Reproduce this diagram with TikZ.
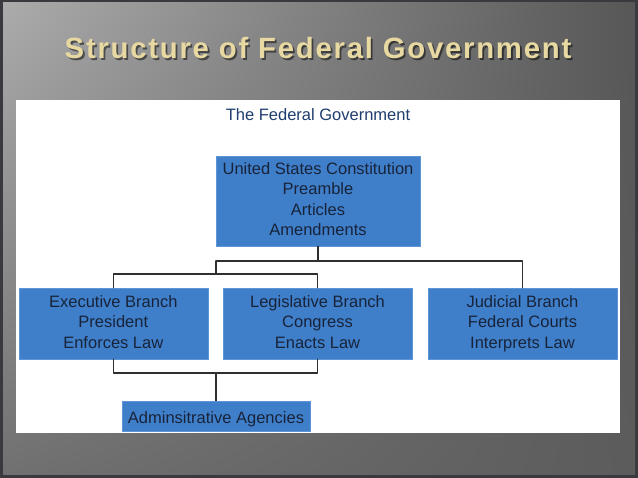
\documentclass[tikz,border=0pt]{standalone}
\usepackage{fontspec}
\setmainfont{Liberation Sans}
\newfontfamily\headfont[LetterSpace=6]{Liberation Sans}
\usetikzlibrary{positioning,shadings}
\definecolor{frame}{HTML}{3A3A3E}
\definecolor{boxblue}{HTML}{3F7FC9}
\definecolor{boxedge}{HTML}{5E95D6}
\definecolor{ink}{HTML}{18233A}
\definecolor{navy}{HTML}{1F3D6E}
\definecolor{wire}{HTML}{2F2F2F}
\definecolor{gold}{HTML}{E8D9A2}
\newcommand{\topstrut}{\rule{0pt}{19.4pt}}
\newcommand{\botstrut}{\rule[-3.6pt]{0pt}{3.6pt}}
\tikzset{
  org/.style={draw=boxedge, line width=0.6pt, fill=boxblue, text=ink, align=center,
    font=\fontsize{16.5}{20.5}\selectfont, inner sep=0pt,
    execute at begin node=\topstrut, execute at end node=\botstrut},
  branch/.style={org, minimum width=189pt, minimum height=71pt},
  link/.style={draw=wire, line width=1.3pt, line cap=round, line join=round},
  head/.style={font=\headfont\bfseries\fontsize{29.3}{32}\selectfont, anchor=base},
}

\begin{document}
\begin{tikzpicture}[x=1pt,y=-1pt]
  \useasboundingbox (0,0) rectangle (638,478);
  % slide backdrop
  \fill[frame] (0,0) rectangle (638,478);
  \shade[upper left=black!33, upper right=black!66, lower left=black!56, lower right=black!64]
    (3,3) rectangle (635,475);
  \fill[white] (16,100) rectangle (620,433);
  % title
  \node[head, text=black, opacity=0.5] (titleshade) at (319.8,60.8) {Structure of Federal Government};
  \node[head, text=gold] (title) at (318,59) {Structure of Federal Government};
  \node[text=navy, font=\fontsize{16.5}{20}\selectfont] (caption) at (318,115) {The Federal Government};
  % chart
  \node[org, minimum width=204pt, minimum height=90pt] (const) at (318,201)
    {United States Constitution\\Preamble\\Articles\\Amendments};
  \node[branch] (exec) at (113.3,323.5) {Executive Branch\\President\\Enforces Law};
  \node[branch] (legis) at (317.5,323.5) {Legislative Branch\\Congress\\Enacts Law};
  \node[branch] (judic) at (522.5,323.5) {Judicial Branch\\Federal Courts\\Interprets Law};
  \node[org, minimum width=188pt, minimum height=30pt] (admin) at (216,416) {Adminsitrative Agencies};
  \coordinate (topbus) at (216,261);
  \coordinate (midbus) at (216,274);
  \coordinate (lowbus) at (216,373);
  \draw[link] (const.south) -- (const.south |- topbus);
  \draw[link] (topbus) -| (judic.north);
  \draw[link] (topbus) -- (midbus);
  \draw[link] (exec.north) |- (midbus) -| (legis.north);
  \draw[link] (exec.south) |- (lowbus) -| (legis.south);
  \draw[link] (lowbus) -- (admin.north);
\end{tikzpicture}
\end{document}
